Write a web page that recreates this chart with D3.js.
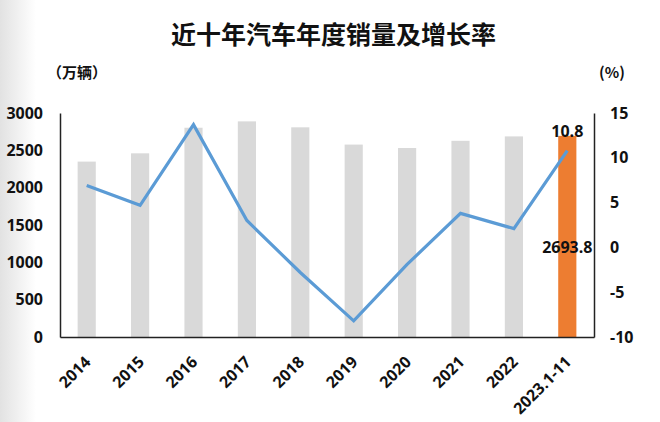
<!DOCTYPE html>
<html><head><meta charset="utf-8">
<script src="https://cdn.jsdelivr.net/npm/d3@7"></script>
<style>
html,body{margin:0;padding:0;background:#fff;}
svg{display:block;font-family:"Noto Sans CJK SC","Noto Sans",sans-serif;}
</style></head><body>
<script>
const categories = ["2014","2015","2016","2017","2018","2019","2020","2021","2022","2023.1-11"];
const sales = [2349.2, 2459.8, 2802.8, 2887.9, 2808.1, 2576.9, 2531.1, 2627.5, 2686.4, 2693.8];
const growth = [6.9, 4.7, 13.7, 3.0, -2.8, -8.2, -1.9, 3.8, 2.1, 10.8];
const leftTicks = [0, 500, 1000, 1500, 2000, 2500, 3000];
const rightTicks = [-10, -5, 0, 5, 10, 15];
const title = "近十年汽车年度销量及增长率";

const W = 660, H = 422;
const m = {left: 60, right: 66, top: 113, bottom: 85};
const svg = d3.select("body").append("svg").attr("width", W).attr("height", H);
const numFont = "'Open Sans','Noto Sans',sans-serif";

const defs = svg.append("defs");
const g1 = defs.append("linearGradient").attr("id","bgl").attr("x1","0").attr("x2","1");
g1.append("stop").attr("offset","0").attr("stop-color","#e2e2e2");
g1.append("stop").attr("offset","1").attr("stop-color","#ffffff");
svg.append("rect").attr("x",0).attr("y",0).attr("width",36).attr("height",H).attr("fill","url(#bgl)");

const x = d3.scaleBand().domain(categories).range([m.left, W - m.right]).paddingInner(0.66).paddingOuter(0.33);
const yL = d3.scaleLinear().domain([0, 3000]).range([H - m.bottom, m.top]);
const yR = d3.scaleLinear().domain([-10, 15]).range([H - m.bottom, m.top]);

// title
svg.append("text").attr("x", 333.5).attr("y", 44).attr("text-anchor","middle")
  .attr("font-size", 25).attr("font-weight", 700).attr("fill","#111").text(title);
svg.append("text").attr("x", 77).attr("y", 78).attr("text-anchor","middle")
  .attr("font-size", 15).attr("font-weight", 700).attr("fill","#111").text("（万辆）");
svg.append("text").attr("x", 612).attr("y", 78).attr("text-anchor","middle")
  .attr("font-size", 15).attr("font-weight", 700).attr("fill","#111").text("(%)");

// bars
svg.append("g").selectAll("rect").data(categories).join("rect")
  .attr("x", d => x(d)).attr("width", x.bandwidth())
  .attr("y", (d,i) => yL(sales[i])).attr("height", (d,i) => yL(0) - yL(sales[i]))
  .attr("fill", (d,i) => i === categories.length - 1 ? "#ed7d31" : "#d9d9d9");

// axes
const fmt = d => String(d);
const axL = svg.append("g").attr("transform", `translate(${m.left},0)`)
  .call(d3.axisLeft(yL).tickValues(leftTicks).tickFormat(fmt).tickSize(0).tickPadding(17));
const axR = svg.append("g").attr("transform", `translate(${W - m.right},0)`)
  .call(d3.axisRight(yR).tickValues(rightTicks).tickFormat(fmt).tickSize(0).tickPadding(16));
const axB = svg.append("g").attr("transform", `translate(0,${yL(0)})`)
  .call(d3.axisBottom(x).tickSize(0));
[axL, axR, axB].forEach(a => {
  a.select(".domain").attr("stroke","#222").attr("stroke-width",1.5);
  a.selectAll("text").attr("font-size", 16).attr("font-weight", 700).attr("fill","#111")
   .attr("font-family", numFont);
});
axB.selectAll(".tick text").attr("text-anchor","end")
  .attr("x", 0).attr("y", 0).attr("dy", 0)
  .attr("transform", "translate(5,26) rotate(-45)");

// line
const line = d3.line().x((d,i) => x(categories[i]) + x.bandwidth()/2).y(d => yR(d));
svg.append("path").datum(growth).attr("d", line).attr("fill","none")
  .attr("stroke","#5b9bd5").attr("stroke-width", 3.2).attr("stroke-linejoin","miter");

// data labels
const last = categories.length - 1;
const cx = x(categories[last]) + x.bandwidth()/2;
svg.append("text").attr("x", cx).attr("y", yR(growth[last]) - 14).attr("text-anchor","middle")
  .attr("font-size", 16).attr("font-weight", 700).attr("fill","#111")
  .attr("font-family", numFont).text(growth[last].toFixed(1));
svg.append("text").attr("x", cx).attr("y", yR(0) + 6).attr("text-anchor","middle")
  .attr("font-size", 16).attr("font-weight", 700).attr("fill","#111")
  .attr("font-family", numFont).text(sales[last].toFixed(1));
</script>
</body></html>
